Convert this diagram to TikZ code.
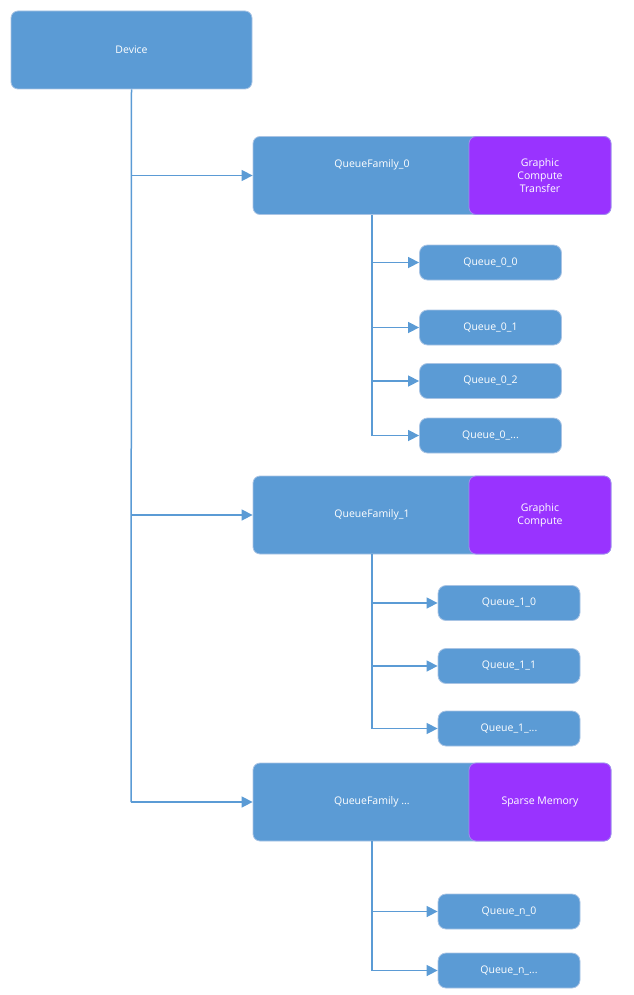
\documentclass[tikz,border=0pt]{standalone}
\usepackage{fontspec}
\setmainfont{Open Sans}
\usetikzlibrary{arrows.meta}
\definecolor{qblue}{HTML}{5B9BD5}
\definecolor{qedge}{HTML}{A9C4E4}
\definecolor{qpurp}{HTML}{9933FF}
\tikzset{
  box/.style={draw=qedge, line width=0.8pt, fill=qblue, rounded corners=7pt, text=white, font=\fontsize{10.5}{13}\selectfont, inner sep=0pt, align=center},
  fam/.style={box, minimum width=358, minimum height=78},
  famt/.style={text=white, font=\fontsize{10.5}{13}\selectfont},
  pbox/.style={box, fill=qpurp, draw=qedge!60!qpurp, minimum width=142, minimum height=78},
  q/.style={box, rounded corners=8pt, minimum width=142, minimum height=35},
  conn/.style={draw=qblue, line width=1.5pt, -{Triangle[length=11pt,width=11pt]}},
  line/.style={draw=qblue, line width=1.5pt},
}
\begin{document}
\begin{tikzpicture}[x=1pt,y=-1pt]
\useasboundingbox (0,0) rectangle (633,995);
\node[box, minimum width=241, minimum height=78] (dev) at (131.5,50) {Device};
\node[fam] (f0) at (432,175.5) {};
\node[famt] (f0t) at (372,164.5) {QueueFamily\_0};
\node[pbox] (f0p) at (540,175.5) {Graphic\\Compute\\Transfer};
\node[fam] (f1) at (432,515) {};
\node[famt] (f1t) at (372,515) {QueueFamily\_1};
\node[pbox] (f1p) at (540,515) {Graphic\\Compute};
\node[fam] (f2) at (432,802) {};
\node[famt] (f2t) at (372,802) {QueueFamily ...};
\node[pbox] (f2p) at (540,802) {Sparse Memory};
\node[q] (q00) at (490.5,262.5) {Queue\_0\_0};
\node[q] (q01) at (490.5,327.5) {Queue\_0\_1};
\node[q] (q02) at (490.5,381) {Queue\_0\_2};
\node[q] (q03) at (490.5,435.5) {Queue\_0\_...};
\node[q] (q10) at (509,603) {Queue\_1\_0};
\node[q] (q11) at (509,666) {Queue\_1\_1};
\node[q] (q12) at (509,728.5) {Queue\_1\_...};
\node[q] (qn0) at (509,911.5) {Queue\_n\_0};
\node[q] (qn1) at (509,970.5) {Queue\_n\_...};
\coordinate (t0) at (131,175.5);
\coordinate (t1) at (131,515);
\coordinate (t2) at (131,802);
\draw[line] (dev.south) -- (t2);
\draw[conn] (t0) -- (f0.west);
\draw[conn] (t1) -- (f1.west);
\draw[conn] (t2) -- (f2.west);
\coordinate (s0) at (372,215);
\coordinate (s1) at (372,554);
\coordinate (s2) at (372,841);
\draw[line] (s0) -- (s0 |- q03.west);
\draw[line] (s1) -- (s1 |- q12.west);
\draw[line] (s2) -- (s2 |- qn1.west);
\foreach \q in {q00,q01,q02,q03} { \draw[conn] (s0 |- \q.west) -- (\q.west); }
\foreach \q in {q10,q11,q12} { \draw[conn] (s1 |- \q.west) -- (\q.west); }
\foreach \q in {qn0,qn1} { \draw[conn] (s2 |- \q.west) -- (\q.west); }
\end{tikzpicture}
\end{document}
